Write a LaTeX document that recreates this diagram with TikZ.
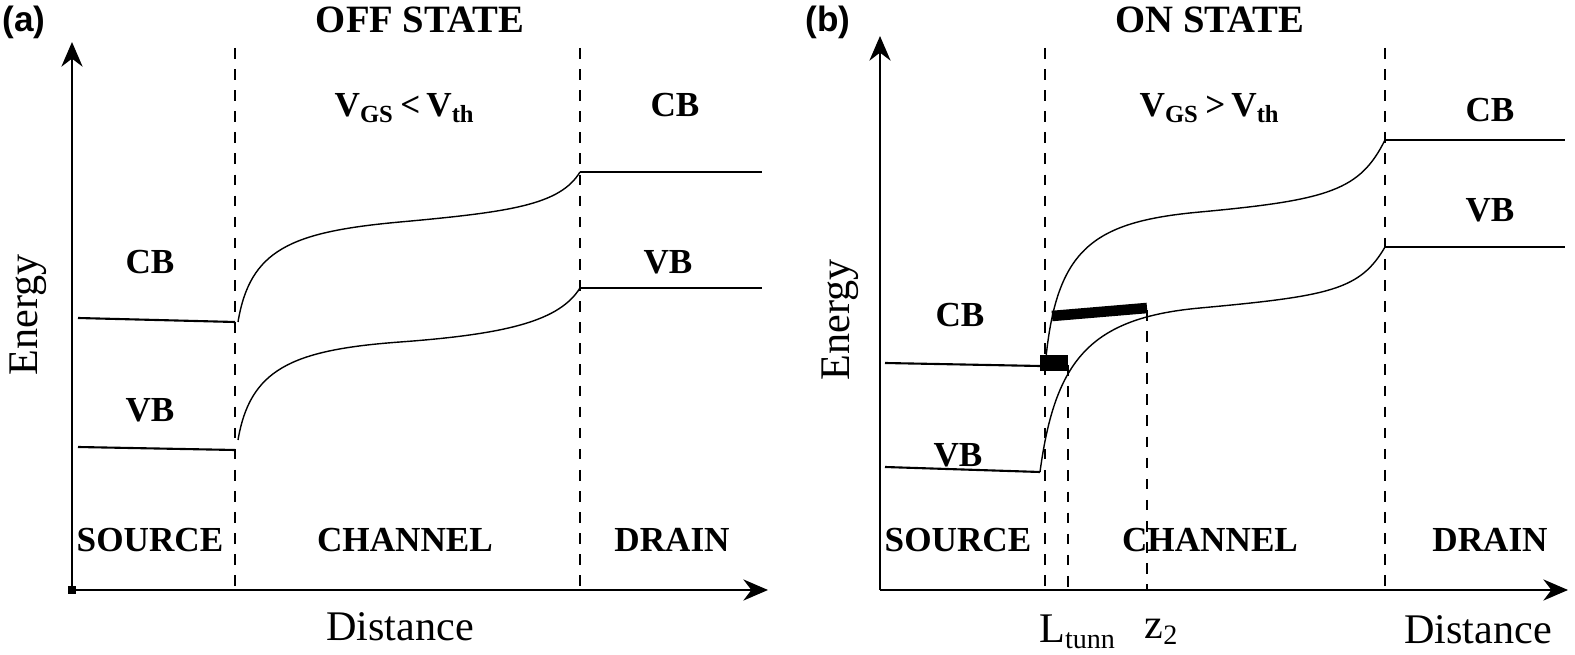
\documentclass[tikz,border=0pt]{standalone}
\usepackage{fontspec}
\setmainfont{Liberation Serif}
\newfontfamily\labfont{Liberation Sans}
\usetikzlibrary{arrows.meta}
\tikzset{
    band/.style={line width=0.6pt},
    slope/.style={line width=0.4pt},
    border/.style={dashed, line width=0.6pt},
    axis/.style={line width=0.8pt, -{Stealth[length=7pt,width=6pt]}},
    tag/.style={font=\fontsize{10}{11}\selectfont\bfseries},
    head/.style={font=\fontsize{11}{12}\selectfont\bfseries},
    word/.style={font=\fontsize{12}{13}\selectfont},
    tunnel/.style={line width=3pt}
}
\begin{document}
\begin{tikzpicture}[x=0.01cm,y=-0.01cm]
        \useasboundingbox (0,0) rectangle (1575,655);

        % (a) off state
        \coordinate (oa) at (72,590);
        \coordinate (ya) at (72,42);
        \coordinate (xa) at (768,590);
        \draw[axis] (oa) -- (ya);
        \draw[axis] (oa) -- (xa);
        \fill (oa) ++(-4,-4) rectangle ++(8,8);
        \draw[border] (235,48) -- (235,590);
        \draw[border] (580,48) -- (580,590);

        \draw[band] (78,318) -- (235,322);
        \draw[band] (78,447) -- (235,450);
        \draw[slope] (238,322) .. controls (250,250) and (290,232) .. (400,222)
                               .. controls (510,212) and (560,205) .. (580,172);
        \draw[slope] (238,440) .. controls (250,370) and (290,350) .. (400,342)
                               .. controls (510,334) and (560,320) .. (580,288);
        \draw[band] (580,172) -- (762,172);
        \draw[band] (580,288) -- (762,288);

        \node[font=\labfont\bfseries\fontsize{10}{11}\selectfont] (ta) at (24,22) {(a)};
        \node[head] (sa) at (420,20) {OFF STATE};
        \node[tag] (va) at (405,108) {V\textsubscript{GS}\,<\,V\textsubscript{th}};
        \node[tag] (cba) at (150,262) {CB};
        \node[tag] (vba) at (150,410) {VB};
        \node[tag] (cda) at (675,105) {CB};
        \node[tag] (vda) at (668,262) {VB};
        \node[tag] (srca) at (150,540) {SOURCE};
        \node[tag] (cha) at (405,540) {CHANNEL};
        \node[tag] (dra) at (672,540) {DRAIN};
        \node[word] (da) at (400,627) {Distance};
        \node[word, rotate=90] (ea) at (28,315) {Energy};

        % (b) on state
        \coordinate (ob) at (880,590);
        \coordinate (yb) at (880,36);
        \coordinate (xb) at (1568,590);
        \draw[axis] (ob) -- (yb);
        \draw[axis] (ob) -- (xb);
        \draw[border] (1045,48) -- (1045,590);
        \draw[border] (1385,48) -- (1385,590);
        \draw[border] (1068,365) -- (1068,590);
        \draw[border] (1147,310) -- (1147,590);

        \draw[band] (885,363) -- (1040,366);
        \draw[band] (885,467) -- (1040,472);
        \draw[slope] (1045,368) .. controls (1055,250) and (1090,222) .. (1200,212)
                                .. controls (1330,200) and (1360,190) .. (1385,140);
        \draw[slope] (1040,472) .. controls (1055,360) and (1090,318) .. (1200,308)
                                .. controls (1330,296) and (1360,290) .. (1385,247);
        \draw[band] (1385,140) -- (1565,140);
        \draw[band] (1385,247) -- (1565,247);

        \draw[tunnel] (1052,316) -- (1147,308);
        \fill (1040,355) rectangle (1068,371);

        \node[font=\labfont\bfseries\fontsize{10}{11}\selectfont] (tb) at (828,22) {(b)};
        \node[head] (sb) at (1210,20) {ON STATE};
        \node[tag] (vb) at (1210,108) {V\textsubscript{GS}\,>\,V\textsubscript{th}};
        \node[tag] (cbb) at (960,315) {CB};
        \node[tag] (vbb) at (958,455) {VB};
        \node[tag] (cdb) at (1490,110) {CB};
        \node[tag] (vdb) at (1490,210) {VB};
        \node[tag] (srcb) at (958,540) {SOURCE};
        \node[tag] (chb) at (1210,540) {CHANNEL};
        \node[tag] (drb) at (1490,540) {DRAIN};
        \node[word] (lt) at (1078,632) {L\textsubscript{tunn}};
        \node[word] (z2) at (1162,632) {z\textsubscript{2}};
        \node[word] (db) at (1478,630) {Distance};
        \node[word, rotate=90] (eb) at (840,320) {Energy};

\end{tikzpicture}
\end{document}
